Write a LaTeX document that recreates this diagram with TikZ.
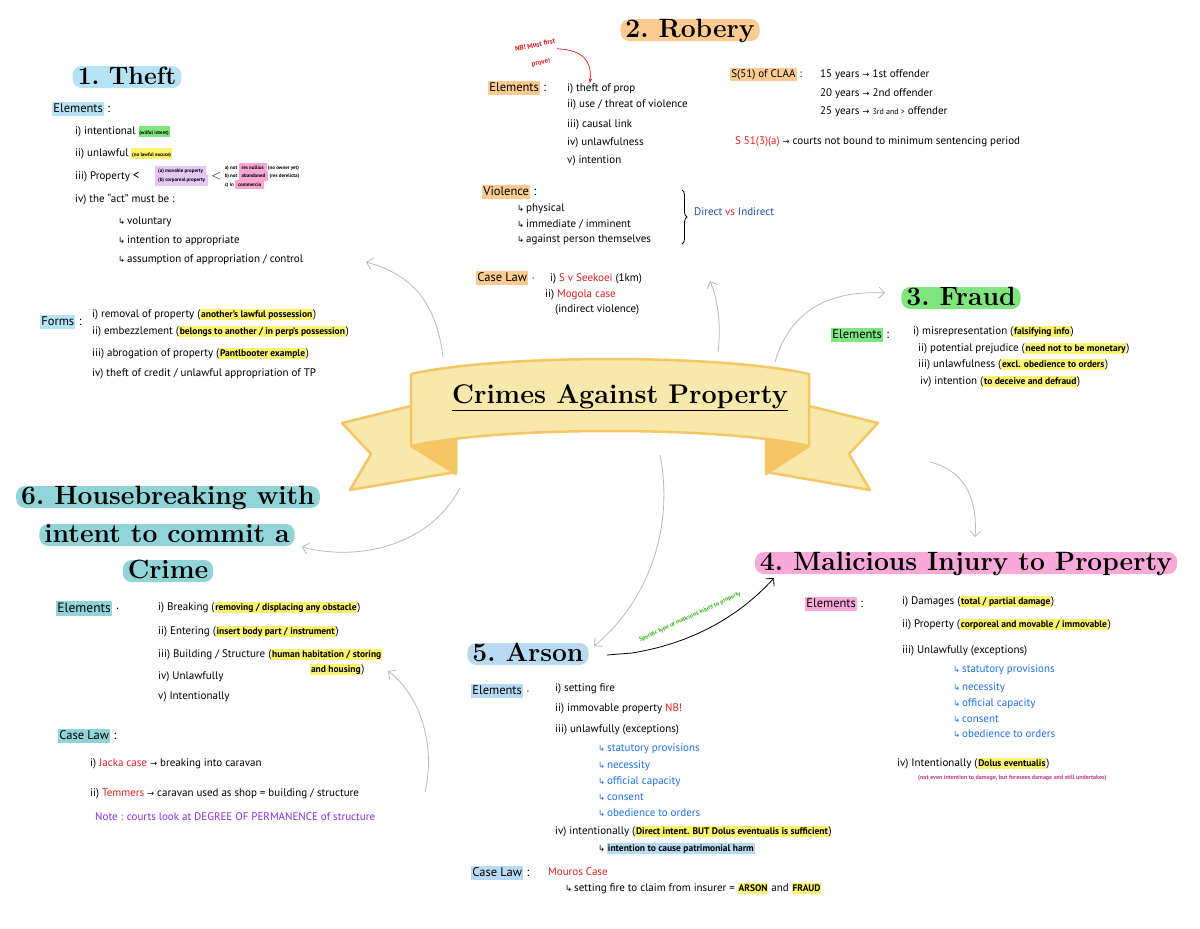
\documentclass[tikz,border=0pt]{standalone}
\usepackage{fontspec}
\setsansfont{PT Sans}
\newfontfamily\arrfont{DejaVu Sans}
\usetikzlibrary{arrows.meta,positioning,decorations.pathreplacing}

\definecolor{ribbon}{HTML}{F9E8AB}
\definecolor{ribbonedge}{HTML}{F4C664}
\definecolor{hlblue}{HTML}{B6E3F4}
\definecolor{hlorange}{HTML}{FBCB92}
\definecolor{hlgreen}{HTML}{7FE57F}
\definecolor{hlpink}{HTML}{F8A9DA}
\definecolor{hlsky}{HTML}{B7DAF2}
\definecolor{hlteal}{HTML}{90D4D7}
\definecolor{hlyellow}{HTML}{FBF36B}
\definecolor{hlpurple}{HTML}{E3C8F7}
\definecolor{hlrose}{HTML}{F7A6D4}
\definecolor{inkred}{HTML}{E0201E}
\definecolor{inkblue}{HTML}{1E6FE8}
\definecolor{inknavy}{HTML}{1F4EA0}
\definecolor{inkgreen}{HTML}{3BB51E}
\definecolor{inkpurple}{HTML}{8A2BE2}
\definecolor{inkmagenta}{HTML}{C0398F}

% highlighter marks
\newcommand\hlt[2]{{\setlength\fboxsep{1.2pt}\colorbox{#1}{\vphantom{(}#2}}}
\newcommand\hls[2]{{\setlength\fboxsep{0.8pt}\colorbox{#1}{\fontsize{9.5}{10}\selectfont\bfseries\vphantom{(}#2}}}
\newcommand\toarr{{\arrfont\fontsize{8.5}{9}\selectfont →}}
\newcommand\subarr{{\arrfont\fontsize{8.5}{9}\selectfont ↳}\,}

\begin{document}
\begin{tikzpicture}[x=1pt, y=-1pt,
  txt/.style={anchor=base west, inner sep=0pt, font=\sffamily\fontsize{11}{12}\selectfont},
  lbl/.style={txt, font=\sffamily\fontsize{12.5}{13}\selectfont},
  tny/.style={anchor=west, inner sep=0pt, align=left, font=\sffamily\bfseries\fontsize{5}{6}\selectfont},
  ttl/.style={inner xsep=5pt, inner ysep=0pt, rounded corners=9pt, text height=18pt, text depth=4pt, font=\bfseries\fontsize{26.5}{28}\selectfont},
  nbnote/.style={font=\sffamily\bfseries\fontsize{7}{8}\selectfont, text=inkred, inner sep=0pt, rotate=12},
  ribbonpart/.style={draw=ribbonedge, line width=2.5pt, line join=round},
  link/.style={-{Straight Barb[length=2mm]}, gray!55, line width=0.8pt}
]
\fill[white] (0,0) rectangle (1200,929);
\useasboundingbox (0,0) rectangle (1200,929);

% banner
\filldraw[ribbonpart, fill=ribbon] (415,405) -- (342,423) -- (371,454) -- (350,490) -- (456,472) -- (456,430) -- cycle;
\filldraw[ribbonpart, fill=ribbon] (805,405) -- (878,423) -- (849,454) -- (870,490) -- (766,472) -- (766,430) -- cycle;
\filldraw[ribbonpart, fill=ribbonedge] (411,446) -- (456,438) -- (456,474) -- cycle;
\filldraw[ribbonpart, fill=ribbonedge] (809,446) -- (766,438) -- (766,474) -- cycle;
\filldraw[ribbonpart, fill=ribbon] (411,374) .. controls (500,354) and (720,354) .. (809,374) -- (809,446) .. controls (720,426) and (500,426) .. (411,446) -- cycle;
\node[font=\bfseries\fontsize{27}{30}\selectfont] (mainT) at (620,398) {\underline{Crimes Against Property}};

% 1. theft
\node[ttl, fill=hlblue, font=\bfseries\fontsize{25}{28}\selectfont] (theftT) at (127,77) {1.\ Theft};
\node[lbl] (theftEl) at (52,112) {\hlt{hlblue}{Elements} :};
\node[txt] (theft1) at (75,134) {i) intentional \hls{hlgreen}{\fontsize{5}{6}\selectfont (wilful intent)}};
\node[txt] (theft2) at (75,156) {ii) unlawful \hls{hlyellow}{\fontsize{5}{6}\selectfont (no lawful excuse)}};
\node[txt] (theft3) at (75,179) {iii) Property \fontsize{13}{13}\selectfont<};
\node[tny] (theftP) at (155,176) {\colorbox{hlpurple}{(a) movable property}\\[-3pt]\colorbox{hlpurple}{(b) corporeal property}};
\node[txt, right=3pt of theftP.east, anchor=west, font=\fontsize{13}{13}\selectfont] (theftLt) {<};
\node[tny, right=3pt of theftLt] (theftQ) {a) not \colorbox{hlrose}{res nullius} (no owner yet)\\[-2pt]b) not \colorbox{hlrose}{abandoned} (res derelicta)\\[-2pt]c) in \colorbox{hlrose}{commercio}};
\node[txt] (theft4) at (75,202) {iv) the ``act'' must be :};
\node[txt] (theft5) at (118,224) {\subarr voluntary};
\node[txt] (theft6) at (118,243) {\subarr intention to appropriate};
\node[txt] (theft7) at (118,262) {\subarr assumption of appropriation / control};

\node[lbl] (formsL) at (40,325) {\hlt{hlblue}{Forms} :};
\node[txt] (forms1) at (92,317) {i) removal of property (\hls{hlyellow}{another's lawful possession})};
\node[txt] (forms2) at (92,334) {ii) embezzlement (\hls{hlyellow}{belongs to another / in perp's possession})};
\node[txt] (forms3) at (92,356) {iii) abrogation of property (\hls{hlyellow}{Pantlbooter example})};
\node[txt] (forms4) at (92,376) {iv) theft of credit / unlawful appropriation of TP};

% 2. robbery
\node[ttl, fill=hlorange] (robT) at (690,30) {2.\ Robery};
\node[nbnote] (robNB) at (535,45) {NB! Must first};
\node[nbnote] (robNB2) at (541,63) {prove!};
\node[lbl] (robEl) at (488,91) {\hlt{hlorange}{Elements} :};
\node[txt] (rob1) at (567,91) {i) theft of prop};
\node[txt] (rob2) at (567,107) {ii) use / threat of violence};
\node[txt] (rob3) at (567,127) {iii) causal link};
\node[txt] (rob4) at (567,145) {iv) unlawfulness};
\node[txt] (rob5) at (567,163) {v) intention};
\draw[-{Stealth[length=1.6mm]}, inkred, line width=0.7pt] (robNB.east) ++(2,8) .. controls (582,50) and (592,60) .. (rob1.north -| 590,0);

\node[txt] (claaL) at (730,77) {\hlt{hlorange}{S(51) of CLAA} :};
\node[txt] (claa1) at (820,77) {15 years \toarr\ 1st offender};
\node[txt] (claa2) at (820,96) {20 years \toarr\ 2nd offender};
\node[txt] (claa3) at (820,114) {25 years \toarr\ {\fontsize{8}{8}\selectfont 3rd and >} offender};
\node[txt] (claa4) at (735,144) {\textcolor{inkred}{S 51(3)(a)} \toarr\ courts not bound to minimum sentencing period};

\node[lbl] (vioL) at (482,195) {\hlt{hlorange}{Violence} :};
\node[txt] (vio1) at (517,211) {\subarr physical};
\node[txt] (vio2) at (517,227) {\subarr immediate / imminent};
\node[txt] (vio3) at (517,242) {\subarr against person themselves};
\draw[decorate, decoration={brace, amplitude=5pt}, line width=0.8pt] (682,190) -- (682,244);
\node[txt] (vioDI) at (694,215) {\textcolor{inknavy}{Direct} \textcolor{inkred}{vs} \textcolor{inknavy}{Indirect}};

\node[lbl] (robCs) at (476,281) {\hlt{hlorange}{Case Law} $\cdot$};
\node[txt] (robCs1) at (550,281) {i) \textcolor{inkred}{S v Seekoei} (1km)};
\node[txt] (robCs2) at (545,297) {ii) \textcolor{inkred}{Mogola case}};
\node[txt] (robCs3) at (555,312) {(indirect violence)};

% 3. fraud
\node[ttl, fill=hlgreen] (fraudT) at (961,298) {3.\ Fraud};
\node[lbl] (fraudEl) at (831,338) {\hlt{hlgreen}{Elements} :};
\node[txt] (fraud1) at (913,334) {i) misrepresentation (\hls{hlyellow}{falsifying info})};
\node[txt] (fraud2) at (918,351) {ii) potential prejudice (\hls{hlyellow}{need not to be monetary})};
\node[txt] (fraud3) at (918,367) {iii) unlawfulness (\hls{hlyellow}{excl. obedience to orders})};
\node[txt] (fraud4) at (920,384) {iv) intention (\hls{hlyellow}{to deceive and defraud})};

% 4. malicious injury
\node[ttl, fill=hlpink] (maliT) at (966,563) {4.\ Malicious Injury to Property};
\node[lbl] (maliEl) at (805,607) {\hlt{hlpink}{Elements} :};
\node[txt] (mali1) at (902,604) {i) Damages (\hls{hlyellow}{total / partial damage})};
\node[txt] (mali2) at (902,627) {ii) Property (\hls{hlyellow}{corporeal and movable / immovable})};
\node[txt] (mali3) at (902,653) {iii) Unlawfully (exceptions)};
\node[txt, text=inkblue] (mali3a) at (953,672) {\subarr statutory provisions};
\node[txt, text=inkblue] (mali3b) at (953,690) {\subarr necessity};
\node[txt, text=inkblue] (mali3c) at (953,706) {\subarr official capacity};
\node[txt, text=inkblue] (mali3d) at (953,722) {\subarr consent};
\node[txt, text=inkblue] (mali3e) at (953,737) {\subarr obedience to orders};
\node[txt] (mali4) at (897,766) {iv) Intentionally (\hls{hlyellow}{Dolus eventualis})};
\node[txt, text=inkmagenta, font=\sffamily\bfseries\fontsize{6}{6}\selectfont] (mali5) at (918,779) {(not even intention to damage, but foresees damage and still undertakes)};

% 5. arson
\node[ttl, fill=hlsky] (arsonT) at (528,654) {5.\ Arson};
\node[lbl] (arsonEl) at (471,694) {\hlt{hlsky}{Elements} $\cdot$};
\node[txt] (arson1) at (555,691) {i) setting fire};
\node[txt] (arson2) at (555,711) {ii) immovable property \textcolor{inkred}{NB!}};
\node[txt] (arson3) at (555,732) {iii) unlawfully (exceptions)};
\node[txt, text=inkblue] (arson3a) at (598,751) {\subarr statutory provisions};
\node[txt, text=inkblue] (arson3b) at (598,768) {\subarr necessity};
\node[txt, text=inkblue] (arson3c) at (598,784) {\subarr official capacity};
\node[txt, text=inkblue] (arson3d) at (598,800) {\subarr consent};
\node[txt, text=inkblue] (arson3e) at (598,816) {\subarr obedience to orders};
\node[txt] (arson4) at (555,834) {iv) intentionally (\hls{hlyellow}{Direct intent. BUT Dolus eventualis is sufficient})};
\node[txt] (arson5) at (598,851) {\subarr\hls{hlsky}{intention to cause patrimonial harm}};
\node[lbl] (arsonCs) at (471,876) {\hlt{hlsky}{Case Law} :};
\node[txt] (arsonCs1) at (548,875) {\textcolor{inkred}{Mouros Case}};
\node[txt] (arsonCs2) at (565,891) {\subarr setting fire to claim from insurer = \hls{hlyellow}{ARSON} and \hls{hlyellow}{FRAUD}};

% 6. housebreaking
\node[ttl, fill=hlteal] (houseT1) at (168,497) {6.\ Housebreaking with};
\node[ttl, fill=hlteal] (houseT2) at (167,535) {intent to commit a};
\node[ttl, fill=hlteal] (houseT3) at (168,571) {Crime};
\node[lbl, font=\sffamily\fontsize{13.5}{14}\selectfont] (houseEl) at (56,612) {\hlt{hlteal}{Elements} $\cdot$};
\node[txt] (house1) at (158,610) {i) Breaking (\hls{hlyellow}{removing / displacing any obstacle})};
\node[txt] (house2) at (158,634) {ii) Entering (\hls{hlyellow}{insert body part / instrument})};
\node[txt] (house3) at (158,657) {iii) Building / Structure (\hls{hlyellow}{human habitation / storing}};
\node[txt] (house3b) at (310,672) {\hls{hlyellow}{and housing})};
\node[txt] (house4) at (158,679) {iv) Unlawfully};
\node[txt] (house5) at (158,699) {v) Intentionally};
\node[lbl] (houseCs) at (58,739) {\hlt{hlteal}{Case Law} :};
\node[txt] (houseCs1) at (90,766) {i) \textcolor{inkred}{Jacka case} \toarr\ breaking into caravan};
\node[txt] (houseCs2) at (90,796) {ii) \textcolor{inkred}{Temmers} \toarr\ caravan used as shop = building / structure};
\node[txt, text=inkpurple] (houseNote) at (95,820) {Note : courts look at DEGREE OF PERMANENCE of structure};

% connectors
\coordinate (bTopL) at (443,357);
\coordinate (bTopM) at (718,352);
\coordinate (bTopR) at (775,362);
\coordinate (bRight) at (930,462);
\coordinate (bBot) at (660,455);
\coordinate (bLeft) at (460,488);
\coordinate (theftIn) at (366,262);
\coordinate (robIn) at (710,281);
\coordinate (fraudIn) at (885,293);
\coordinate (maliIn) at (975,537);
\coordinate (arsonIn) at (594,646);
\coordinate (houseIn) at (302,547);
\coordinate (caseFoot) at (425,792);
\coordinate (habitIn) at (388,671);
\draw[link] (bTopL) .. controls (436,300) and (410,274) .. (theftIn);
\draw[link] (bTopM) .. controls (722,320) and (716,295) .. (robIn);
\draw[link] (bTopR) .. controls (790,310) and (830,290) .. (fraudIn);
\draw[link] (bRight) .. controls (962,470) and (978,495) .. (maliIn);
\draw[link] (bBot) .. controls (674,525) and (650,600) .. (arsonIn);
\draw[link] (bLeft) .. controls (430,545) and (360,562) .. (houseIn);
\draw[link] (caseFoot) .. controls (436,745) and (420,695) .. (habitIn);

\coordinate (arsonOut) at (607,655);
\coordinate (maliOut) at (774,578);
\draw[-{Straight Barb[length=2mm]}, line width=0.8pt] (arsonOut) -- (632,653) .. controls (700,642) and (745,610) .. (maliOut);
\node[font=\sffamily\bfseries\fontsize{6}{6}\selectfont, text=inkgreen, rotate=25] (arsonLinkL) at (690,617) {Specific type of malicious injury to property};
\end{tikzpicture}
\end{document}
